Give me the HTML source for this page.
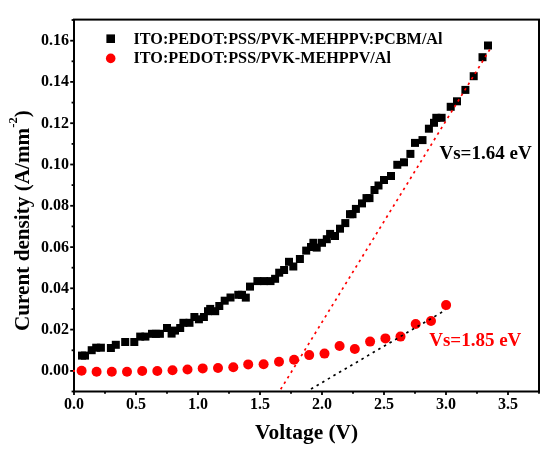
<!DOCTYPE html>
<html><head><meta charset="utf-8"><title>J-V plot</title>
<style>html,body{margin:0;padding:0;background:#fff;width:550px;height:449px;overflow:hidden}svg{display:block}</style>
</head><body>
<svg width="550" height="449" viewBox="0 0 550 449" font-family="'Liberation Serif', 'Times New Roman', serif" font-weight="bold">
<rect width="550" height="449" fill="#fff"/>
<g fill="#000"><rect x="78.0" y="351.6" width="8.0" height="8.0"/><rect x="81.0" y="351.6" width="8.0" height="8.0"/><rect x="87.7" y="346.2" width="8.0" height="8.0"/><rect x="92.2" y="343.7" width="8.0" height="8.0"/><rect x="96.9" y="343.7" width="8.0" height="8.0"/><rect x="106.9" y="344.0" width="8.0" height="8.0"/><rect x="111.8" y="340.8" width="8.0" height="8.0"/><rect x="121.2" y="338.0" width="8.0" height="8.0"/><rect x="130.3" y="338.0" width="8.0" height="8.0"/><rect x="136.2" y="332.6" width="8.0" height="8.0"/><rect x="141.4" y="332.6" width="8.0" height="8.0"/><rect x="148.0" y="329.8" width="8.0" height="8.0"/><rect x="151.9" y="329.8" width="8.0" height="8.0"/><rect x="155.9" y="329.8" width="8.0" height="8.0"/><rect x="163.0" y="324.0" width="8.0" height="8.0"/><rect x="167.6" y="329.6" width="8.0" height="8.0"/><rect x="171.0" y="326.6" width="8.0" height="8.0"/><rect x="176.2" y="324.0" width="8.0" height="8.0"/><rect x="179.4" y="318.8" width="8.0" height="8.0"/><rect x="185.5" y="318.8" width="8.0" height="8.0"/><rect x="190.4" y="313.0" width="8.0" height="8.0"/><rect x="194.9" y="315.3" width="8.0" height="8.0"/><rect x="199.9" y="313.0" width="8.0" height="8.0"/><rect x="204.0" y="307.2" width="8.0" height="8.0"/><rect x="206.2" y="304.9" width="8.0" height="8.0"/><rect x="211.2" y="307.2" width="8.0" height="8.0"/><rect x="215.3" y="302.0" width="8.0" height="8.0"/><rect x="220.7" y="296.7" width="8.0" height="8.0"/><rect x="226.5" y="293.5" width="8.0" height="8.0"/><rect x="234.3" y="290.8" width="8.0" height="8.0"/><rect x="238.0" y="290.8" width="8.0" height="8.0"/><rect x="241.8" y="293.6" width="8.0" height="8.0"/><rect x="246.0" y="282.6" width="8.0" height="8.0"/><rect x="253.4" y="277.1" width="8.0" height="8.0"/><rect x="260.0" y="277.1" width="8.0" height="8.0"/><rect x="266.5" y="277.1" width="8.0" height="8.0"/><rect x="271.1" y="274.8" width="8.0" height="8.0"/><rect x="275.2" y="268.7" width="8.0" height="8.0"/><rect x="280.1" y="266.0" width="8.0" height="8.0"/><rect x="285.0" y="257.8" width="8.0" height="8.0"/><rect x="289.3" y="262.5" width="8.0" height="8.0"/><rect x="295.9" y="255.0" width="8.0" height="8.0"/><rect x="302.2" y="246.6" width="8.0" height="8.0"/><rect x="307.0" y="243.0" width="8.0" height="8.0"/><rect x="309.4" y="238.8" width="8.0" height="8.0"/><rect x="312.7" y="243.6" width="8.0" height="8.0"/><rect x="318.0" y="238.8" width="8.0" height="8.0"/><rect x="322.8" y="235.2" width="8.0" height="8.0"/><rect x="326.1" y="229.9" width="8.0" height="8.0"/><rect x="331.0" y="232.0" width="8.0" height="8.0"/><rect x="336.0" y="224.7" width="8.0" height="8.0"/><rect x="341.3" y="219.1" width="8.0" height="8.0"/><rect x="346.0" y="210.2" width="8.0" height="8.0"/><rect x="348.5" y="210.2" width="8.0" height="8.0"/><rect x="351.9" y="204.9" width="8.0" height="8.0"/><rect x="358.0" y="199.4" width="8.0" height="8.0"/><rect x="362.5" y="194.1" width="8.0" height="8.0"/><rect x="365.5" y="194.1" width="8.0" height="8.0"/><rect x="370.5" y="186.0" width="8.0" height="8.0"/><rect x="374.5" y="181.5" width="8.0" height="8.0"/><rect x="380.0" y="176.0" width="8.0" height="8.0"/><rect x="387.0" y="172.0" width="8.0" height="8.0"/><rect x="393.3" y="160.8" width="8.0" height="8.0"/><rect x="400.0" y="158.3" width="8.0" height="8.0"/><rect x="406.4" y="149.9" width="8.0" height="8.0"/><rect x="411.0" y="138.9" width="8.0" height="8.0"/><rect x="418.5" y="136.1" width="8.0" height="8.0"/><rect x="424.9" y="124.7" width="8.0" height="8.0"/><rect x="430.0" y="118.8" width="8.0" height="8.0"/><rect x="432.3" y="113.8" width="8.0" height="8.0"/><rect x="437.6" y="113.8" width="8.0" height="8.0"/><rect x="446.7" y="102.8" width="8.0" height="8.0"/><rect x="453.0" y="97.3" width="8.0" height="8.0"/><rect x="461.4" y="85.9" width="8.0" height="8.0"/><rect x="469.7" y="72.2" width="8.0" height="8.0"/><rect x="478.5" y="53.2" width="8.0" height="8.0"/><rect x="484.0" y="41.5" width="8.0" height="8.0"/></g>
<g fill="#ff0000"><circle cx="81.6" cy="370.8" r="5.0"/><circle cx="96.6" cy="371.7" r="5.0"/><circle cx="111.8" cy="371.7" r="5.0"/><circle cx="127.0" cy="371.7" r="5.0"/><circle cx="142.2" cy="371.0" r="5.0"/><circle cx="157.3" cy="371.0" r="5.0"/><circle cx="172.5" cy="370.2" r="5.0"/><circle cx="187.5" cy="369.5" r="5.0"/><circle cx="202.7" cy="368.4" r="5.0"/><circle cx="218.0" cy="368.0" r="5.0"/><circle cx="233.3" cy="367.3" r="5.0"/><circle cx="248.2" cy="364.4" r="5.0"/><circle cx="263.6" cy="364.2" r="5.0"/><circle cx="279.0" cy="361.8" r="5.0"/><circle cx="294.1" cy="359.7" r="5.0"/><circle cx="309.2" cy="355.1" r="5.0"/><circle cx="324.5" cy="353.6" r="5.0"/><circle cx="339.6" cy="346.0" r="5.0"/><circle cx="354.8" cy="349.0" r="5.0"/><circle cx="370.1" cy="341.6" r="5.0"/><circle cx="385.4" cy="338.4" r="5.0"/><circle cx="400.5" cy="336.6" r="5.0"/><circle cx="415.7" cy="324.0" r="5.0"/><circle cx="431.0" cy="321.0" r="5.0"/><circle cx="446.1" cy="305.1" r="5.0"/></g>
<line x1="280.7" y1="389.3" x2="491" y2="47.6" stroke="#ff0000" stroke-width="1.7" stroke-dasharray="2.5 4"/>
<line x1="311" y1="389" x2="445.7" y2="310" stroke="#000" stroke-width="1.7" stroke-dasharray="2.5 4"/>
<rect x="74.0" y="19.6" width="465.0" height="371.9" fill="none" stroke="#000" stroke-width="2"/>
<g stroke="#000" stroke-width="1.8"><line x1="74.0" y1="391.5" x2="74.0" y2="395.0"/><line x1="105.0" y1="391.5" x2="105.0" y2="393.7"/><line x1="136.0" y1="391.5" x2="136.0" y2="395.0"/><line x1="167.0" y1="391.5" x2="167.0" y2="393.7"/><line x1="198.0" y1="391.5" x2="198.0" y2="395.0"/><line x1="229.0" y1="391.5" x2="229.0" y2="393.7"/><line x1="260.0" y1="391.5" x2="260.0" y2="395.0"/><line x1="291.0" y1="391.5" x2="291.0" y2="393.7"/><line x1="322.0" y1="391.5" x2="322.0" y2="395.0"/><line x1="353.0" y1="391.5" x2="353.0" y2="393.7"/><line x1="384.0" y1="391.5" x2="384.0" y2="395.0"/><line x1="415.0" y1="391.5" x2="415.0" y2="393.7"/><line x1="446.0" y1="391.5" x2="446.0" y2="395.0"/><line x1="477.0" y1="391.5" x2="477.0" y2="393.7"/><line x1="508.0" y1="391.5" x2="508.0" y2="395.0"/><line x1="539.0" y1="391.5" x2="539.0" y2="393.7"/><line x1="74.0" y1="391.5" x2="71.6" y2="391.5"/><line x1="74.0" y1="370.9" x2="70.2" y2="370.9"/><line x1="74.0" y1="350.3" x2="71.6" y2="350.3"/><line x1="74.0" y1="329.6" x2="70.2" y2="329.6"/><line x1="74.0" y1="309.0" x2="71.6" y2="309.0"/><line x1="74.0" y1="288.3" x2="70.2" y2="288.3"/><line x1="74.0" y1="267.7" x2="71.6" y2="267.7"/><line x1="74.0" y1="247.1" x2="70.2" y2="247.1"/><line x1="74.0" y1="226.4" x2="71.6" y2="226.4"/><line x1="74.0" y1="205.8" x2="70.2" y2="205.8"/><line x1="74.0" y1="185.1" x2="71.6" y2="185.1"/><line x1="74.0" y1="164.5" x2="70.2" y2="164.5"/><line x1="74.0" y1="143.9" x2="71.6" y2="143.9"/><line x1="74.0" y1="123.2" x2="70.2" y2="123.2"/><line x1="74.0" y1="102.6" x2="71.6" y2="102.6"/><line x1="74.0" y1="81.9" x2="70.2" y2="81.9"/><line x1="74.0" y1="61.3" x2="71.6" y2="61.3"/><line x1="74.0" y1="40.7" x2="70.2" y2="40.7"/><line x1="74.0" y1="20.0" x2="71.6" y2="20.0"/></g>
<g font-size="16" ><text x="74.0" y="409" text-anchor="middle">0.0</text><text x="136.0" y="409" text-anchor="middle">0.5</text><text x="198.0" y="409" text-anchor="middle">1.0</text><text x="260.0" y="409" text-anchor="middle">1.5</text><text x="322.0" y="409" text-anchor="middle">2.0</text><text x="384.0" y="409" text-anchor="middle">2.5</text><text x="446.0" y="409" text-anchor="middle">3.0</text><text x="508.0" y="409" text-anchor="middle">3.5</text><text x="69" y="375.4" text-anchor="end">0.00</text><text x="69" y="334.1" text-anchor="end">0.02</text><text x="69" y="292.8" text-anchor="end">0.04</text><text x="69" y="251.6" text-anchor="end">0.06</text><text x="69" y="210.3" text-anchor="end">0.08</text><text x="69" y="169.0" text-anchor="end">0.10</text><text x="69" y="127.7" text-anchor="end">0.12</text><text x="69" y="86.4" text-anchor="end">0.14</text><text x="69" y="45.2" text-anchor="end">0.16</text></g>
<text x="306.6" y="439" font-size="21.4" text-anchor="middle">Voltage (V)</text>
<text transform="translate(29,331) rotate(-90)" font-size="21.2">Curent density (A/mm<tspan font-size="12.6" dy="-12">-2</tspan><tspan dy="12">)</tspan></text>
<rect x="106.4" y="34.4" width="8.6" height="8.6" fill="#000"/>
<circle cx="110.7" cy="58.4" r="4.8" fill="#ff0000"/>
<text x="133.5" y="44" font-size="16.2">ITO:PEDOT:PSS/PVK-MEHPPV:PCBM/Al</text>
<text x="133.5" y="63" font-size="16.2">ITO:PEDOT:PSS/PVK-MEHPPV/Al</text>
<rect x="73" y="369.9" width="2" height="2" fill="#ff0000"/>
<text x="439.5" y="158.8" font-size="19">Vs=1.64 eV</text>
<text x="429.2" y="346" font-size="19" fill="#ff0000">Vs=1.85 eV</text>
</svg>
</body></html>
